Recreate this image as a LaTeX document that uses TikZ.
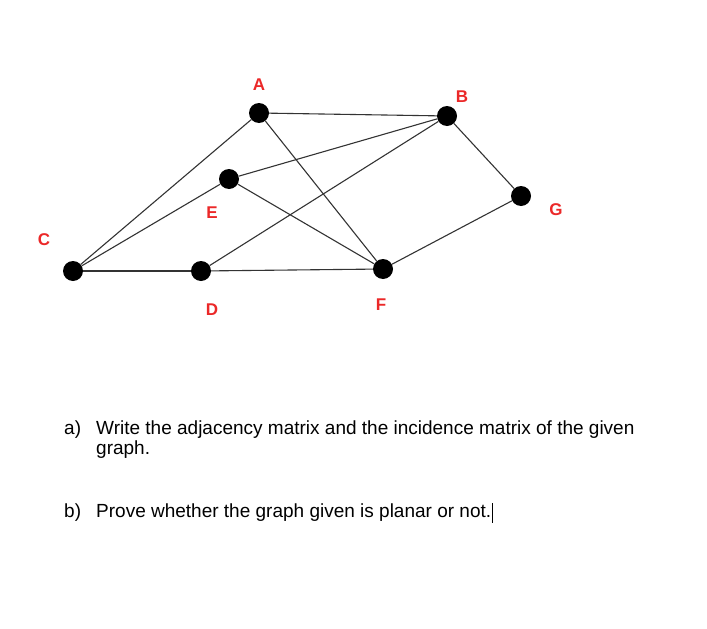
\documentclass[tikz,border=0pt]{standalone}
\usepackage{fontspec}
\setmainfont{Liberation Sans}
\definecolor{pen}{RGB}{235,40,40}
\begin{document}
\begin{tikzpicture}[x=1pt,y=-1pt,
  vtx/.style={circle,fill=black,inner sep=0pt,minimum size=20pt},
  lbl/.style={font=\fontsize{17}{17}\selectfont\bfseries,text=pen},
  edge/.style={draw=black!80,line width=1.1pt},
  txt/.style={anchor=west,font=\fontsize{19}{22}\selectfont,inner sep=0pt}]
\useasboundingbox (0,0) rectangle (707,629);
\node[vtx] (A) at (259,113) {};
\node[vtx] (B) at (447,116) {};
\node[vtx] (E) at (229,179) {};
\node[vtx] (G) at (521,196) {};
\node[vtx] (C) at (73,271) {};
\node[vtx] (D) at (201,271) {};
\node[vtx] (F) at (383,269) {};
\node[lbl] (lA) at (259,85) {A};
\node[lbl] (lB) at (462,97) {B};
\node[lbl] (lE) at (212,213) {E};
\node[lbl] (lG) at (556,210) {G};
\node[lbl] (lC) at (44,240) {C};
\node[lbl] (lD) at (212,310) {D};
\node[lbl] (lF) at (381,305) {F};
\foreach \a/\b in {A/B,A/C,A/F,C/E,C/D,E/B,E/F,D/B,D/F,F/G,B/G}
  \draw[edge] (\a) -- (\b);
\node[txt] (qa) at (64,430) {a)};
\node[txt] (qa1) at (96,430) {Write the adjacency matrix and the incidence matrix of the given};
\node[txt] (qa2) at (96,450) {graph.};
\node[txt] (qb) at (64,513) {b)};
\node[txt] (qb1) at (96,513) {Prove whether the graph given is planar or not.};
\draw[line width=0.8pt] (qb1.east) ++(1,-10) -- ++(0,20);
\end{tikzpicture}
\end{document}
